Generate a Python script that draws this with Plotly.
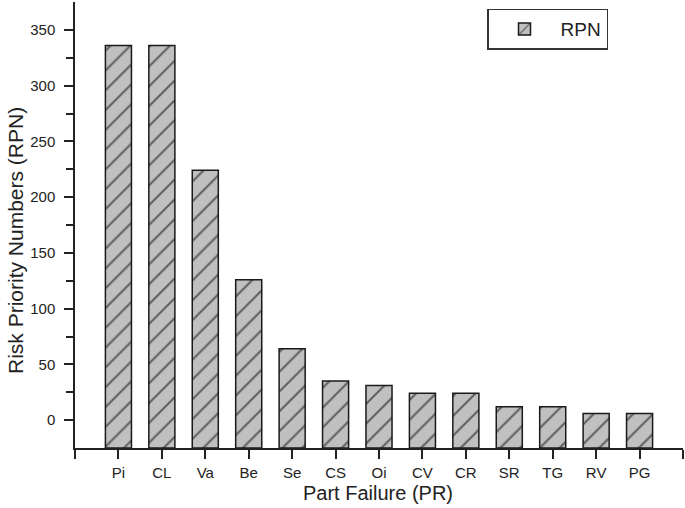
import plotly.graph_objects as go

categories = ["Pi", "CL", "Va", "Be", "Se", "CS", "Oi", "CV", "CR", "SR", "TG", "RV", "PG"]
rpn_values = [336, 336, 224, 126, 64, 35, 31, 24, 24, 12, 12, 6, 6]
y_tick_values = [0, 50, 100, 150, 200, 250, 300, 350]
y_minor_values = [25, 75, 125, 175, 225, 275, 325]

Y_MIN, Y_MAX = -25, 375
positions = list(range(len(categories)))

fig = go.Figure()
fig.add_trace(go.Bar(
    x=positions,
    y=[v - Y_MIN for v in rpn_values],
    base=Y_MIN,
    width=0.6,
    name="RPN",
    marker=dict(
        color="#c0c0c0",
        line=dict(color="#1a1a1a", width=1.5),
        pattern=dict(shape="/", fgcolor="#000000", bgcolor="#c0c0c0", size=14, solidity=0.15),
    ),
    customdata=rpn_values,
    hovertemplate="%{text}: %{customdata}<extra></extra>",
    text=categories,
    textposition="none",
))

font = "Liberation Sans, Arial, sans-serif"
tc = "#222222"
fig.update_layout(
    width=685, height=508,
    margin=dict(l=75, r=2, t=2, b=60, autoexpand=False),
    paper_bgcolor="white", plot_bgcolor="white",
    font=dict(family=font, color=tc),
    showlegend=True,
    legend=dict(
        x=(487 - 75) / 608, y=0.985, xanchor="left", yanchor="top",
        bordercolor="#333333", borderwidth=1.5,
        font=dict(size=19, family=font, color=tc),
        bgcolor="white",
        itemwidth=62,
    ),
    annotations=[
        dict(text="Part Failure (PR)", xref="paper", yref="paper",
             x=(378 - 75) / 608, y=-(493 - 448) / 446, xanchor="center", yanchor="middle",
             showarrow=False, font=dict(size=20, family=font, color=tc)),
        dict(text="Risk Priority Numbers (RPN)", xref="paper", yref="paper",
             x=-(75 - 15) / 608, y=(448 - 241) / 446, xanchor="center", yanchor="middle",
             textangle=-90, showarrow=False, font=dict(size=21, family=font, color=tc)),
    ],
)
fig.update_xaxes(
    range=[-1, 13],
    tickmode="array",
    tickvals=[-1] + positions + [13],
    ticktext=[""] + categories + [""],
    ticks="outside", ticklen=9, tickwidth=1.5, tickcolor=tc,
    showline=True, linecolor=tc, linewidth=1.5,
    showgrid=False, zeroline=False,
    tickfont=dict(size=15, family=font, color=tc),
    ticklabelstandoff=1,
    automargin=False,
)
fig.update_yaxes(
    range=[Y_MIN, Y_MAX],
    tickmode="array",
    tickvals=y_tick_values,
    ticks="outside", ticklen=9, tickwidth=1.5, tickcolor=tc,
    minor=dict(tickmode="array", tickvals=y_minor_values,
               ticks="outside", ticklen=7, tickwidth=1.5, tickcolor=tc, showgrid=False),
    showline=True, linecolor=tc, linewidth=1.5,
    showgrid=False, zeroline=False,
    tickfont=dict(size=15, family=font, color=tc),
    ticklabelstandoff=6,
    automargin=False,
)

fig.write_html(
    "out.html",
    config={"displayModeBar": False},
    post_script="document.body.style.margin='0';document.body.style.overflow='hidden';",
)
